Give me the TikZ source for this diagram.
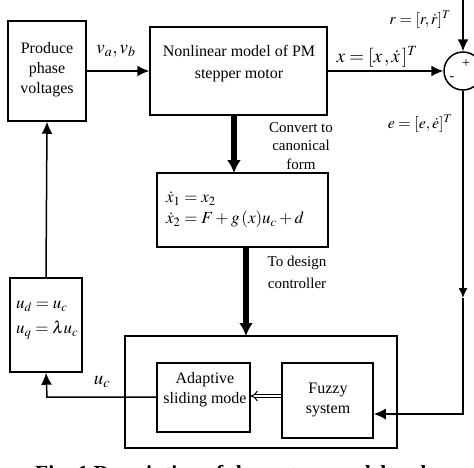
\documentclass[tikz,border=0pt]{standalone}
\usepackage{mathptmx}
\usepackage{fontspec}
\setmainfont{Liberation Serif}
\usetikzlibrary{positioning,arrows.meta,calc}

\begin{document}
\begin{tikzpicture}[x=1pt,y=-1pt,
    >={Latex[length=12pt,width=11pt]},
    every node/.style={font=\fontsize{16}{20}\selectfont},
    block/.style={rectangle, draw, line width=1.5pt, inner sep=0pt},
    flow/.style={->, line width=1.5pt},
    bigflow/.style={-{Latex[length=13pt,width=14pt]}, line width=6pt},
    txt/.style={inner sep=0pt, align=center},
    mathlbl/.style={inner sep=0pt, font=\fontsize{19}{22}\selectfont}]
  \useasboundingbox (0,0) rectangle (474,467);

  % Blocks of the upper row
  \node[block, minimum width=78pt, minimum height=100pt] (produce) at (47,71) {};
  \node[txt] (producetxt) at (47,70) {Produce\\phase\\voltages};
  \node[block, minimum width=177pt, minimum height=88pt] (model) at (238.5,71) {};
  \node[txt, font=\fontsize{16}{22}\selectfont] (modeltxt) at (239,64) {Nonlinear model of PM\\stepper motor};
  \node[circle, draw, line width=1.5pt, minimum size=38pt, inner sep=0pt] (sum) at (463,71) {};
  \node[inner sep=0pt, font=\fontsize{14}{14}\selectfont] (plus) at (466,64) {+};
  \node[inner sep=0pt, font=\fontsize{14}{14}\selectfont] (minus) at (452,79) {-};

  % Canonical form
  \node[block, minimum width=171pt, minimum height=74pt] (canon) at (242.5,210) {};
  \node[inner sep=0pt, anchor=west, align=left, font=\fontsize{17}{21}\selectfont] (canontxt) at (166,210)
    {$\dot{x}_1 = x_2$\\$\dot{x}_2 = F + g\,(x)u_c + d$};

  % Controller
  \node[block, minimum width=272pt, minimum height=112pt] (ctrl) at (261,392) {};
  \node[block, minimum width=93pt, minimum height=69pt] (asm) at (203.5,397.5) {};
  \node[txt] (asmtxt) at (205,390) {Adaptive\\sliding mode};
  \node[block, minimum width=91pt, minimum height=75pt] (fuzzy) at (327.5,400.5) {};
  \node[txt] (fuzzytxt) at (328,400) {Fuzzy\\system};

  % Transformation of u_c
  \node[block, minimum width=72pt, minimum height=94pt] (udq) at (46,325) {};
  \node[inner sep=0pt, anchor=west, align=left, font=\fontsize{17}{25}\selectfont] (udqtxt) at (16,320)
    {$u_d = u_c$\\$u_q = \lambda u_c$};

  % Labels
  \node[mathlbl] (vab) at (116,51) {$v_a, v_b$};
  \node[mathlbl] (xlbl) at (377,57) {$x = [x\,,\dot{x}\,]^T$};
  \node[mathlbl, font=\fontsize{16}{20}\selectfont] (rlbl) at (420,20) {$r = [r,\dot{r}]^T$};
  \node[mathlbl, font=\fontsize{16}{20}\selectfont] (elbl) at (420,124) {$e = [e,\dot{e}]^T$};
  \node[mathlbl] (uclbl) at (102,382) {$u_c$};
  \node[txt, font=\fontsize{15}{18.5}\selectfont] (convlbl) at (301,146) {Convert to\\canonical\\form};
  \node[txt, font=\fontsize{15}{22}\selectfont] (desiglbl) at (297,272) {To design\\controller};
  \node[inner sep=0pt, anchor=base west, font=\bfseries\fontsize{21.5}{25}\selectfont] (caption) at (35,480)
    {Fig. 1 Description of the system model and};

  % Connectors
  \coordinate (rin) at (463,0);
  \coordinate (emid) at (463,298);
  \coordinate (ecorner) at (463,414);
  \coordinate (ucorner) at (47,397);
  \draw[flow] (produce.east) -- (model.west);
  \draw[flow] (model.east) -- (sum.west);
  \draw[flow] (rin) -- (sum.north);
  \draw[flow, >={Latex[length=10pt,width=9pt]}] (sum.south) -- (emid);
  \draw[flow] (emid) -- (ecorner) -- (fuzzy.east |- ecorner);
  \draw[bigflow] (234,115) -- (234,173);
  \draw[bigflow] (246,247) -- (246,336);
  \draw[-{Implies}, double, double distance=2.5pt, line width=1pt] (fuzzy.west |- 0,396) -- (asm.east |- 0,396);
  \draw[flow] (asm.west |- ucorner) -- (ucorner) -- (udq.south);
  \draw[flow] (udq.north) -- (produce.south);
\end{tikzpicture}
\end{document}
